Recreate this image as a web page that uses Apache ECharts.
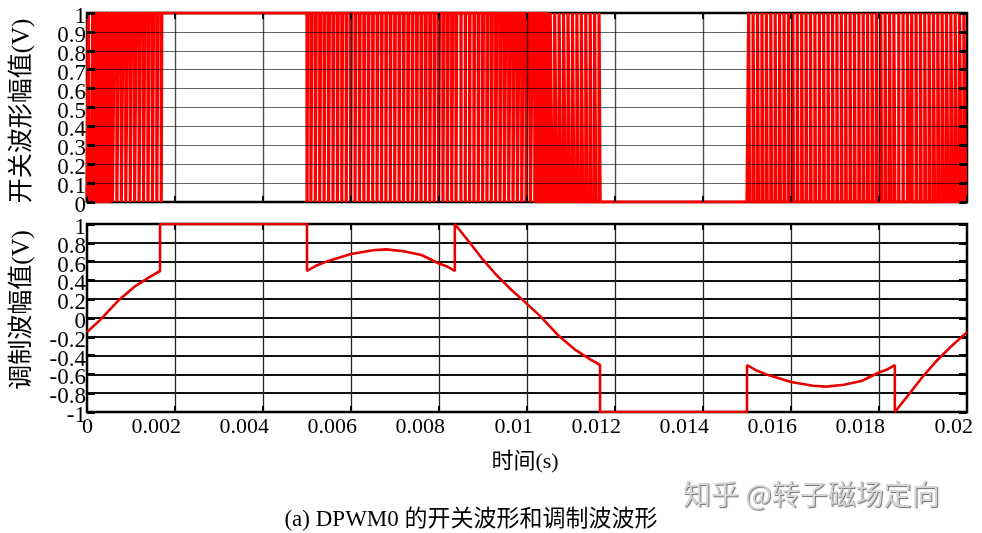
<!DOCTYPE html>
<html>
<head>
<meta charset="utf-8">
<script src="https://cdn.jsdelivr.net/npm/echarts@6/dist/echarts.min.js"></script>
<style>html,body{margin:0;padding:0;background:#fff;}#c{width:982px;height:533px;}</style>
</head>
<body>
<div id="c"></div>
<script>
// ---- data ----
// modulation wave (bottom plot): time (s) and amplitude (V); repeated times are the vertical jumps
const modTime = [
  0, 0.0003, 0.0007, 0.0011, 0.0014, 0.00166,
  0.00166, 0.005,
  0.005, 0.0052, 0.0055, 0.006, 0.0065, 0.0068, 0.0072, 0.0076, 0.008, 0.0082, 0.00836,
  0.00836, 0.0087, 0.009, 0.0093, 0.0096, 0.01, 0.0103, 0.0107, 0.0111, 0.0114, 0.01166,
  0.01166, 0.015,
  0.015, 0.0152, 0.0155, 0.016, 0.0165, 0.0168, 0.0172, 0.0176, 0.018, 0.0182, 0.01836,
  0.01836, 0.0187, 0.019, 0.0193, 0.0196, 0.02
];
const modValue = [
  -0.15, -0.02, 0.18, 0.34, 0.43, 0.50,
  1.00, 1.00,
  0.50, 0.555, 0.61, 0.68, 0.72, 0.73, 0.71, 0.67, 0.58, 0.545, 0.50,
  1.00, 0.80, 0.62, 0.46, 0.32, 0.15, 0.02, -0.18, -0.34, -0.43, -0.50,
  -1.00, -1.00,
  -0.50, -0.555, -0.61, -0.68, -0.72, -0.73, -0.71, -0.67, -0.58, -0.545, -0.50,
  -1.00, -0.80, -0.62, -0.46, -0.32, -0.15
];
// switching carrier period read from the stripe spacing of the top plot (s)
const carrierPeriod = 0.0001;

// tick labels
const xTickLabels = ['0','0.002','0.004','0.006','0.008','0.01','0.012','0.014','0.016','0.018','0.02'];
const topYTickLabels = ['0','0.1','0.2','0.3','0.4','0.5','0.6','0.7','0.8','0.9','1'];
const botYTickLabels = ['-1','-0.8','-0.6','-0.4','-0.2','0','0.2','0.4','0.6','0.8','1'];
const topYEndLabels = ['0', '1'];
const botYEndLabels = ['-1', '', '1'];

// ---- build series data ----
const modData = modTime.map((t, i) => [t, modValue[i]]);

function modAt(t) {
  for (let i = 0; i < modTime.length - 1; i++) {
    const t0 = modTime[i], t1 = modTime[i + 1];
    if (t >= t0 && t < t1 && t1 > t0) {
      return modValue[i] + (modValue[i + 1] - modValue[i]) * (t - t0) / (t1 - t0);
    }
  }
  return modValue[modValue.length - 1];
}

// switching waveform: the modulation wave compared with the triangular carrier
const pwmData = [];
const nPer = Math.round(0.02 / carrierPeriod);
for (let k = 0; k < nPer; k++) {
  const t0 = k * carrierPeriod, t1 = (k + 1) * carrierPeriod, tc = (t0 + t1) / 2;
  const d = (modAt(tc) + 1) / 2;
  if (d >= 0.999) { pwmData.push([t0, 1], [t1, 1]); }
  else if (d <= 0.001) { pwmData.push([t0, 0], [t1, 0]); }
  else {
    const a = tc - d * carrierPeriod / 2, b = tc + d * carrierPeriod / 2;
    pwmData.push([t0, 0], [a, 0], [a, 1], [b, 1], [b, 0], [t1, 0]);
  }
}

const FONT = "'Liberation Serif', 'Noto Sans CJK SC', serif";
const chart = echarts.init(document.getElementById('c'), null, {renderer: 'canvas'});

function xAx(grid, pos, showLabel, z, splitColor, splitWidth) {
  return {
    type: 'value', gridIndex: grid, position: pos, min: 0, max: 0.02, interval: 0.002,
    z: z,
    axisLine: {show: false, onZero: false},
    axisTick: {show: true, inside: true, length: 6, lineStyle: {color: '#000', width: 2}},
    axisLabel: {
      show: showLabel, color: '#000', fontFamily: FONT, fontSize: 22, margin: 4,
      align: 'right', padding: [0, -6, 0, 0], showMinLabel: true, showMaxLabel: true,
      formatter: (v, i) => xTickLabels[Math.round(v / 0.002)]
    },
    splitLine: splitColor ? {show: true, showMinLine: false, showMaxLine: false,
      lineStyle: {color: splitColor, width: splitWidth}} : {show: false}
  };
}
function yAx(grid, pos, min, max, interval, labels, z, splitColor, splitWidth, endLabels) {
  return {
    type: 'value', gridIndex: grid, position: pos, min: min, max: max, interval: interval,
    z: z,
    axisLine: {show: false, onZero: false},
    axisTick: {show: true, inside: true, length: 8, lineStyle: {color: '#000', width: 3}},
    axisLabel: labels ? {
      show: true, color: '#000', fontFamily: FONT, fontSize: 23, margin: 1,
      verticalAlign: 'top', lineHeight: 8,
      showMinLabel: endLabels, showMaxLabel: endLabels,
      formatter: (v) => labels[Math.round((v - min) / interval)]
    } : {show: false},
    splitLine: splitColor ? {show: true, showMinLine: false, showMaxLine: false,
      lineStyle: {color: splitColor, width: splitWidth}} : {show: false}
  };
}

chart.setOption({
  backgroundColor: '#fff',
  animation: false,
  grid: [
    {left: 87, right: 15, top: 13, height: 189, show: true, borderColor: '#000', borderWidth: 2.5, backgroundColor: '#fff'},
    {left: 87, right: 15, top: 224, height: 188, show: true, borderColor: '#000', borderWidth: 2.5, backgroundColor: '#fff'}
  ],
  xAxis: [
    xAx(0, 'bottom', false, 5, 'rgba(0,0,0,0.7)', 1.4),
    xAx(0, 'top', false, 5, null),
    xAx(1, 'bottom', true, 0, '#222', 1.3),
    xAx(1, 'top', false, 0, null)
  ],
  yAxis: [
    yAx(0, 'left', 0, 1, 0.1, topYTickLabels, 5, 'rgba(0,0,0,0.6)', 1.2, false),
    yAx(0, 'right', 0, 1, 0.1, null, 5, null),
    yAx(1, 'left', -1, 1, 0.2, botYTickLabels, 0, '#111', 1.8, false),
    yAx(1, 'right', -1, 1, 0.2, null, 0, null),
    yAx(0, 'left', 0, 1, 1, topYEndLabels, 5, null, 0, true),
    yAx(1, 'left', -1, 1, 1, botYEndLabels, 0, null, 0, true)
  ],
  series: [
    {
      type: 'line', xAxisIndex: 0, yAxisIndex: 0, data: pwmData, showSymbol: false,
      lineStyle: {color: '#ff0000', width: 3.2}, z: 2, silent: true
    },
    {
      type: 'line', xAxisIndex: 2, yAxisIndex: 2, data: modData, showSymbol: false,
      lineStyle: {color: '#e60000', width: 2.6}, z: 2, silent: true
    }
  ],
  graphic: [
    {type: 'text', x: 22, y: 111, rotation: Math.PI / 2,
      style: {text: '开关波形幅值(V)', font: "25px " + FONT, fill: '#000', align: 'center', verticalAlign: 'middle'}},
    {type: 'text', x: 22, y: 310, rotation: Math.PI / 2,
      style: {text: '调制波幅值(V)', font: "25px " + FONT, fill: '#000', align: 'center', verticalAlign: 'middle'}},
    {type: 'text', x: 525, y: 462,
      style: {text: '时间(s)', font: "22px " + FONT, fill: '#000', align: 'center', verticalAlign: 'middle'}},
    {type: 'text', x: 471, y: 520,
      style: {text: '(a) DPWM0 的开关波形和调制波波形', font: "23px " + FONT, fill: '#000', align: 'center', verticalAlign: 'middle'}},
    {type: 'text', x: 683, y: 494,
      style: {text: '知乎 @转子磁场定向', font: "28px 'Noto Sans CJK SC', sans-serif", fill: '#d4d4d4',
        align: 'left', verticalAlign: 'middle',
        textShadowColor: 'rgba(80,80,80,0.8)', textShadowOffsetX: 1, textShadowOffsetY: 1, textShadowBlur: 1}}
  ]
});
</script>
</body>
</html>
